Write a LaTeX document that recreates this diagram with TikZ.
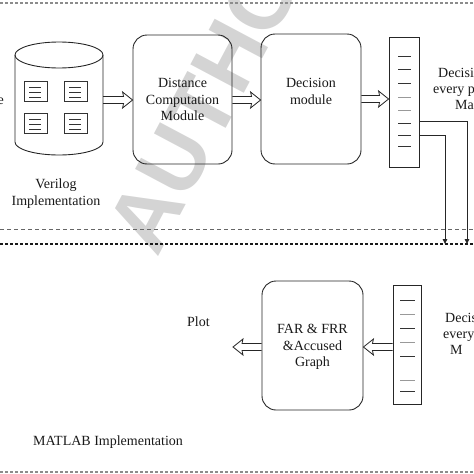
\documentclass[tikz,border=0pt]{standalone}
\usepackage{fontspec}
\setmainfont{Liberation Serif}
\setsansfont{Liberation Sans}
\usetikzlibrary{calc,arrows.meta}
\newcommand\harrowdraw[2]{%
  \draw[harrow] let \p1=(#1), \p2=(#2), \n1={sign(\x2-\x1)} in
    ({\x1},{\y1+3.5pt}) -- ({\x2-(\n1)*9pt},{\y1+3.5pt}) -- ({\x2-(\n1)*10pt},{\y1+8pt}) -- ({\x2},{\y1})
    -- ({\x2-(\n1)*10pt},{\y1-8pt}) -- ({\x2-(\n1)*9pt},{\y1-3.5pt}) -- ({\x1},{\y1-3.5pt});}
\begin{document}
\begin{tikzpicture}[x=1pt,y=1pt,
  box/.style={draw=black!85, line width=0.9pt, rounded corners=14pt, inner sep=0pt},
  lbl/.style={font=\fontsize{14}{16.5}\selectfont, align=center, inner sep=0pt, text=black!90},
  regbox/.style={draw=black!85, line width=0.9pt, inner sep=0pt},
  tick/.style={line width=0.9pt, draw=black!80},
  ltick/.style={line width=0.9pt, draw=black!40},
  harrow/.style={draw=black!85, line width=0.8pt, line join=miter},
  conn/.style={draw=black!85, line width=1pt, -{Triangle[length=5pt,width=4.5pt]}},
  graysep/.style={draw=black!45, line width=1.2pt, dash pattern=on 3pt off 2pt},
  thinsep/.style={draw=black!60, line width=0.5pt, dash pattern=on 4pt off 3pt},
  blacksep/.style={draw=black!90, line width=1.3pt, dash pattern=on 3pt off 2pt},
  doc/.style={draw=black!80, line width=0.9pt},
  wm/.style={text=black!17, font=\fontsize{88}{88}\sffamily\bfseries, inner sep=0pt}
]
\useasboundingbox (0,0) rectangle (474,-474);
\clip (0,0) rectangle (474,-474);

% watermark
\node[wm, rotate=62, anchor=base west] (wm) at (157,-258.5) {AUTHOR};

% separators
\coordinate (s1l) at (0,-3);   \coordinate (s1r) at (474,-3);
\coordinate (s2l) at (0,-229); \coordinate (s2r) at (474,-229);
\coordinate (s3l) at (0,-244); \coordinate (s3r) at (474,-244);
\coordinate (s4l) at (0,-472); \coordinate (s4r) at (474,-472);
\draw[graysep] (s1l) -- (s1r);
\draw[thinsep] (s2l) -- (s2r);
\draw[blacksep] (s3l) -- (s3r);
\draw[graysep] (s4l) -- (s4r);

% cylinder
\draw[line width=0.9pt, draw=black!85] (15,-55) -- (15,-142)
  arc[start angle=180, end angle=360, x radius=44, y radius=13] -- (103,-55);
\draw[line width=0.9pt, draw=black!85] (59,-55) ellipse[x radius=44, y radius=13];
\coordinate (cylE) at (103,-100);
\foreach \x/\y in {24/81, 64/81, 24/113, 64/113}{
  \draw[doc] (\x,-\y) rectangle ++(23,-20);
  \foreach \d in {6,11,16}{ \draw[line width=0.8pt, black!80] (\x+5,-\y-\d) -- ++(12,0); }
}

% left cut text
\node[lbl, anchor=base east] (leftcut) at (4,-104) {e};

% boxes
\node[box, minimum width=99pt, minimum height=129pt] (dcm) at (182.5,-99.5) {};
\node[lbl] (dcmt) at (182.5,-99.5) {Distance\\Computation\\Module};
\node[box, minimum width=100pt, minimum height=130pt] (dec) at (311,-99) {};
\node[lbl] (dect) at (311,-91.5) {Decision\\module};
\node[regbox, minimum width=30pt, minimum height=130pt] (reg1) at (404,-102) {};
\node[box, minimum width=101pt, minimum height=129pt] (far) at (312.5,-345.5) {};
\node[lbl] (fart) at (312.5,-347) {FAR \& FRR\\\&Accused\\Graph};
\node[regbox, minimum width=28pt, minimum height=119pt] (reg2) at (407,-344.5) {};

% register ticks
\foreach \y in {56,69,83,123,135,146}{ \draw[tick] (398,-\y) -- (411,-\y); }
\foreach \y in {97,110}{ \draw[ltick] (398,-\y) -- (411,-\y); }
\foreach \y in {300,328,356,391}{ \draw[tick] (400,-\y) -- (415,-\y); }
\foreach \y in {314,342,380}{ \draw[ltick] (400,-\y) -- (415,-\y); }

% hollow arrows
\harrowdraw{cylE}{dcm.west}
\harrowdraw{[yshift=-0.5pt]dcm.east}{dec.west}
\harrowdraw{dec.east}{reg1.west}
\harrowdraw{[yshift=-2.5pt]reg2.west}{far.east}
\coordinate (plotend) at (233,-347);
\harrowdraw{[yshift=-1.5pt]far.west}{plotend}

% connectors down
\coordinate (d1) at (467,-244);
\coordinate (d2) at (445,-244);
\draw[conn] ([yshift=-19pt]reg1.east) -| (d1);
\draw[conn] ([yshift=-33pt]reg1.east) -| (d2);

% labels
\node[lbl, anchor=base] (ver1) at (56,-188) {Verilog};
\node[lbl, anchor=base] (ver2) at (56,-205) {Implementation};
\node[lbl, anchor=base west] (plot) at (187,-326) {Plot};
\node[lbl, anchor=base west] (matlab) at (33,-445) {MATLAB Implementation};
\node[lbl, anchor=base west] (r1a) at (438,-77) {Decisi};
\node[lbl, anchor=base west] (r1b) at (433,-93) {every p};
\node[lbl, anchor=base west] (r1c) at (455,-109) {Ma};
\node[lbl, anchor=base west] (r2a) at (445,-322) {Decis};
\node[lbl, anchor=base west] (r2b) at (443,-338) {every};
\node[lbl, anchor=base west] (r2c) at (450,-354) {M};
\end{tikzpicture}
\end{document}
